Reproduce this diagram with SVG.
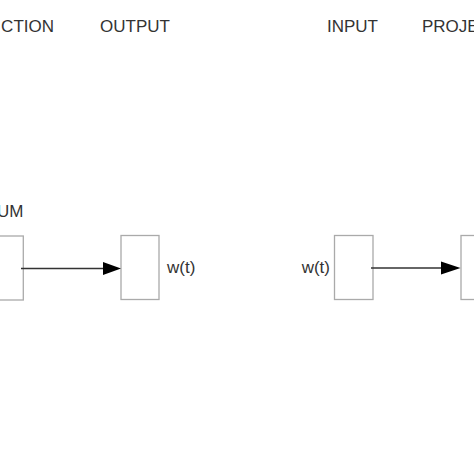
<svg xmlns="http://www.w3.org/2000/svg" width="474" height="474" viewBox="0 0 474 474">
<style>
.lbl{font-family:"Liberation Sans",Arial,sans-serif;font-size:17px;fill:#333}
.box{fill:#fff;stroke:#aaa;stroke-width:1.3}
.edge{stroke:#333;stroke-width:1.3;fill:none}
.head{fill:#000}
</style>
<rect width="474" height="474" fill="#fff"/>
<g id="headers">
<text class="lbl" x="54" y="32" text-anchor="end">CTION</text>
<text class="lbl" x="100" y="32">OUTPUT</text>
<text class="lbl" x="327" y="32">INPUT</text>
<text class="lbl" x="422" y="32">PROJE</text>
</g>
<g id="sum-node">
<rect class="box" x="-20" y="236" width="43.3" height="64"/>
<text class="lbl" x="23.5" y="217" text-anchor="end">UM</text>
</g>
<g id="output-node">
<rect class="box" x="121" y="235.5" width="38" height="64"/>
<text class="lbl" x="167" y="273">w(t)</text>
</g>
<g id="input-node">
<rect class="box" x="334.5" y="235.5" width="38.5" height="64"/>
<text class="lbl" x="330" y="273" text-anchor="end">w(t)</text>
</g>
<g id="projection-node">
<rect class="box" x="461" y="235.5" width="40" height="64"/>
</g>
<g id="connectors">
<line class="edge" x1="21" y1="268.5" x2="105" y2="268.5"/>
<polygon class="head" points="103,262 121,268.5 103,275"/>
<line class="edge" x1="371" y1="268" x2="443" y2="268"/>
<polygon class="head" points="441,261.5 460.5,268 441,274.5"/>
</g>
</svg>
